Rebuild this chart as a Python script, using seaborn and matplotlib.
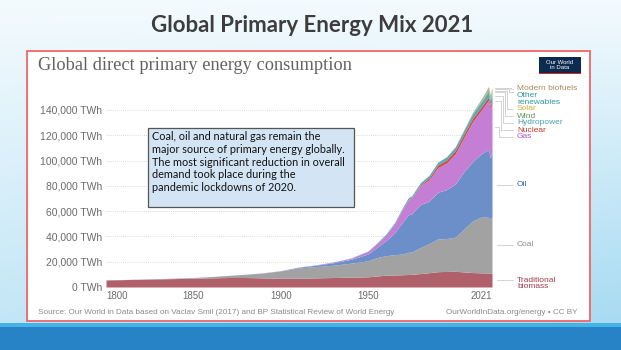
import numpy as np
import pandas as pd
import seaborn as sns
import matplotlib.pyplot as plt
from matplotlib.patches import Rectangle
from matplotlib.lines import Line2D

# --- data (TWh) ---
years = [1800, 1810, 1820, 1830, 1840, 1850, 1860, 1870, 1880, 1890, 1900,
         1910, 1920, 1930, 1940, 1950, 1955, 1960, 1965, 1970, 1973, 1975,
         1980, 1985, 1990, 1995, 2000, 2005, 2010, 2015, 2019, 2020, 2021]

traditional_biomass = [5560, 5830, 6110, 6390, 6670, 6940, 7220, 7500, 7500, 7220, 6940,
                       6940, 7220, 7500, 7780, 8060, 8700, 9300, 9500, 9700, 9900, 10000,
                       10600, 11300, 12100, 12300, 12400, 11900, 11400, 11200, 11100, 11100, 11100]
coal = [97, 128, 153, 264, 356, 569, 1061, 1642, 2542, 3856, 5728,
        8110, 8890, 9720, 11000, 12600, 14500, 15400, 16000, 16500, 17500, 17800,
        20600, 23000, 25900, 26000, 27000, 34000, 41000, 44100, 44000, 42200, 44500]
oil = [0, 0, 0, 0, 0, 0, 0, 6, 60, 130, 180,
       510, 1100, 1900, 3000, 5440, 8000, 11600, 17000, 25500, 29500, 30000,
       34000, 33500, 36900, 38700, 42000, 45400, 46800, 50200, 53600, 48800, 51200]
gas = [0, 0, 0, 0, 0, 0, 0, 0, 10, 35, 64,
       130, 230, 550, 900, 2090, 3000, 4500, 7000, 10300, 12000, 12400,
       14800, 17000, 19500, 21000, 24000, 27000, 31600, 34500, 38900, 38300, 39000]
nuclear = [0, 0, 0, 0, 0, 0, 0, 0, 0, 0, 0,
           0, 0, 0, 0, 0, 0, 0, 7, 80, 200, 380,
           710, 1500, 2000, 2330, 2580, 2770, 2760, 2570, 2800, 2700, 2800]
hydropower = [0, 0, 0, 0, 0, 0, 0, 0, 0, 0, 10,
              40, 70, 130, 190, 340, 480, 690, 920, 1170, 1320, 1430,
              1720, 1970, 2150, 2480, 2650, 2930, 3440, 3880, 4220, 4340, 4270]
wind = [0, 0, 0, 0, 0, 0, 0, 0, 0, 0, 0,
        0, 0, 0, 0, 0, 0, 0, 0, 0, 0, 0,
        0, 1, 4, 8, 31, 104, 346, 830, 1420, 1590, 1860]
solar = [0, 0, 0, 0, 0, 0, 0, 0, 0, 0, 0,
         0, 0, 0, 0, 0, 0, 0, 0, 0, 0, 0,
         0, 0, 0, 0, 1, 4, 32, 260, 700, 850, 1030]
other_renewables = [0, 0, 0, 0, 0, 0, 0, 0, 0, 0, 0,
                    0, 0, 0, 0, 0, 0, 20, 30, 40, 50, 55,
                    80, 120, 150, 180, 210, 270, 370, 550, 700, 730, 760]
modern_biofuels = [0, 0, 0, 0, 0, 0, 0, 0, 0, 0, 0,
                   0, 0, 0, 0, 0, 0, 0, 0, 0, 0, 0,
                   30, 60, 80, 100, 110, 220, 650, 870, 1110, 1040, 1100]

sources = ["Traditional biomass", "Coal", "Oil", "Gas", "Nuclear", "Hydropower",
           "Wind", "Solar", "Other renewables", "Modern biofuels"]
area_colors = ["#b0606a", "#a2a2a2", "#6c8fca", "#c47fd4", "#d9483f", "#5aa9b5",
               "#79b277", "#e5c14f", "#3f9fa4", "#b9a36e"]
label_colors = ["#a33a4c", "#8a8a8a", "#3f64a8", "#a855c0", "#c0392b", "#4a9fb5",
                "#5f9a5a", "#d4aa3a", "#2e9aa0", "#a58a5d"]

df = pd.DataFrame({
    "Traditional biomass": traditional_biomass, "Coal": coal, "Oil": oil, "Gas": gas,
    "Nuclear": nuclear, "Hydropower": hydropower, "Wind": wind, "Solar": solar,
    "Other renewables": other_renewables, "Modern biofuels": modern_biofuels,
}, index=years)

sns.set_theme(style="white")
plt.rcParams["font.family"] = ["Liberation Sans", "DejaVu Sans"]

W, H = 621, 350
fig = plt.figure(figsize=(W / 100, H / 100), dpi=100)

# backdrop in pixel coordinates (y downwards)
bg = fig.add_axes([0, 0, 1, 1], zorder=0)
bg.set_xlim(0, W)
bg.set_ylim(H, 0)
bg.axis("off")

yy, xx = np.mgrid[0:1:200j, 0:1:300j]
t = np.clip(yy * (0.7 + 0.4 * xx), 0, 1)[..., None]
top_c = np.array([0.955, 0.982, 0.996])
bot_c = np.array([0.66, 0.86, 0.95])
bg.imshow(top_c + (bot_c - top_c) * t, extent=(0, W, H, 0), aspect="auto")

bg.add_patch(Rectangle((27, 51), 563, 270, facecolor="white", edgecolor="#f06666", lw=1.3))
bg.add_patch(Rectangle((0, 323), W, 4, facecolor="#45b3e6", lw=0))
bg.add_patch(Rectangle((0, 327), W, 23, facecolor="#2883c6", lw=0))

bg.text(312, 25, "Global Primary Energy Mix 2021", ha="center", va="center",
        fontsize=16, fontweight="bold", color="#3d3d3d", family=["Lato", "DejaVu Sans"])
bg.text(38, 65, "Global direct primary energy consumption", ha="left", va="center",
        fontsize=13.2, color="#626262", family=["Liberation Serif", "DejaVu Serif"])

# OWID logo
bg.add_patch(Rectangle((539, 57), 42, 17, facecolor="#0d2a4f", lw=0))
bg.add_patch(Rectangle((539, 73), 42, 1.4, facecolor="#d42b21", lw=0))
bg.text(560, 65, "Our World\nin Data", ha="center", va="center", fontsize=4.3,
        color="white", linespacing=0.95)

bg.text(38, 312, "Source: Our World in Data based on Vaclav Smil (2017) and BP Statistical Review of World Energy",
        ha="left", va="center", fontsize=5.9, color="#8a8a8a")
bg.text(578, 312, "OurWorldInData.org/energy \u2022 CC BY", ha="right", va="center",
        fontsize=5.9, color="#8a8a8a")

# chart
ax = fig.add_axes([106 / W, (H - 287) / H, 386 / W, (287 - 84.6) / H], zorder=1)
ax.patch.set_alpha(0)
ax.stackplot(df.index, df.T.values, colors=area_colors, linewidth=0)
ax.set_xlim(1800, 2021)
ax.set_ylim(0, 160000)
yt = [0, 20000, 40000, 60000, 80000, 100000, 120000, 140000]
ax.set_yticks(yt)
ax.set_yticklabels([f"{v:,} TWh" for v in yt])
xt = [1800, 1850, 1900, 1950, 2021]
ax.set_xticks(xt)
ax.set_xticklabels([str(v) for v in xt])
xl = ax.get_xticklabels()
xl[0].set_ha("left")
xl[-1].set_ha("right")
ax.yaxis.grid(True, linestyle=(0, (1, 1.5)), color="#cfcfcf", lw=0.6)
ax.xaxis.grid(False)
ax.set_axisbelow(True)
sns.despine(ax=ax, left=True, bottom=True)
ax.tick_params(length=0, labelsize=7, colors="#6b6b6b", pad=3)
ax.tick_params(axis="y", labelsize=7.5)
ax.set_xlabel("")
ax.set_ylabel("")

# end labels with connectors
label_y = [280, 245, 185, 137, 130, 123, 116, 109, 99, 89]
elbow_x = [None, None, None, 499, 501, 503, 505, 507, 509, 511]
cum = np.cumsum([df[s].iloc[-1] for s in sources])
for i, s in enumerate(sources):
    lab = "Traditional\nbiomass" if s == "Traditional biomass" else s
    lab = "Other\nrenewables" if s == "Other renewables" else lab
    ly = label_y[i]
    if s == "Traditional biomass":
        bg.text(517, ly - 3.5, lab, ha="left", va="top", fontsize=6, color=label_colors[i], linespacing=0.95)
    elif s == "Other renewables":
        bg.text(517, ly, lab, ha="left", va="center", fontsize=6, color=label_colors[i], linespacing=0.95)
    else:
        bg.text(517, ly, lab, ha="left", va="center", fontsize=6, color=label_colors[i])
    if elbow_x[i] is None:
        pts = [(497, ly), (513, ly)]
    else:
        lo = cum[i - 1]
        mid = (lo + cum[i]) / 2
        px = ax.transData.transform((2021, mid))
        my = H - px[1]
        ex = elbow_x[i]
        ty = ly - 7 if s == "Other renewables" else ly
        pts = [(495, my), (ex, my), (ex, ty), (513, ty)]
    bg.add_line(Line2D([p[0] for p in pts], [p[1] for p in pts], color="#cccccc", lw=0.6))

# annotation box on top
ov = fig.add_axes([0, 0, 1, 1], zorder=5)
ov.set_xlim(0, W)
ov.set_ylim(H, 0)
ov.axis("off")
ov.patch.set_alpha(0)
ov.add_patch(Rectangle((148, 128), 206, 79, facecolor="#d3e5f4", edgecolor="#555555", lw=0.9))
ov.text(152, 131, "Coal, oil and natural gas remain the\nmajor source of primary energy globally.\n"
        "The most significant reduction in overall\ndemand took place during the\npandemic lockdowns of 2020.",
        ha="left", va="top", fontsize=7.8, color="#111111", linespacing=1.2,
        family=["Lato", "DejaVu Sans"])

fig.savefig("out.png", dpi=100)
